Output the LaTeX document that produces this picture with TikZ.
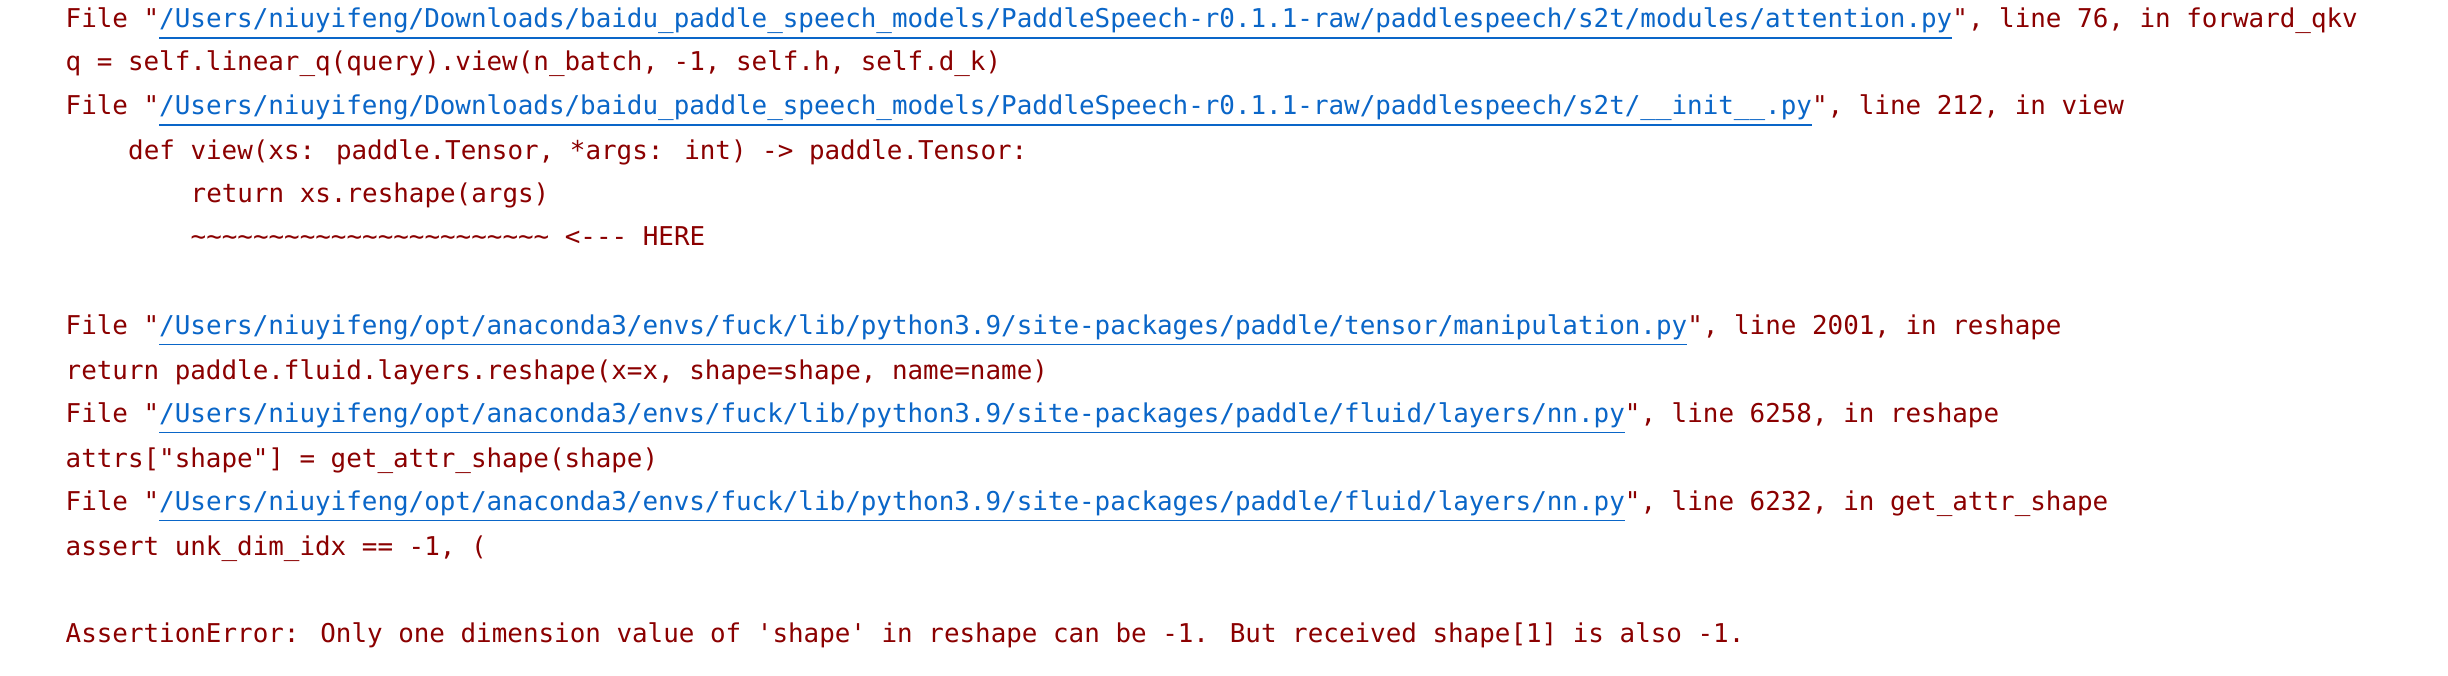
\documentclass[tikz,border=0pt]{standalone}
\usepackage{fontspec}
\newfontfamily\codefont{DejaVu Sans Mono}
\definecolor{errred}{HTML}{8B0000}
\definecolor{linkblue}{HTML}{0A66C8}
\newcommand{\lnk}[1]{\textcolor{linkblue}{\underline{#1}}}
\begin{document}
\begin{tikzpicture}[x=0.3pt,y=-0.3pt,
  codeline/.style={anchor=mid west,inner sep=0pt,font=\codefont\fontsize{7.77pt}{9pt}\selectfont,text=errred}]
\useasboundingbox[fill=white] (0,0) rectangle (2448,676);
\node[codeline] (l1) at (65,20) {File "\lnk{/Users/niuyifeng/Downloads/baidu\_paddle\_speech\_models/PaddleSpeech-r0.1.1-raw/paddlespeech/s2t/modules/attention.py}", line 76, in forward\_qkv};
\node[codeline] (l2) at (65,63) {q = self.linear\_q(query).view(n\_batch, -1, self.h, self.d\_k)};
\node[codeline] (l3) at (65,107) {File "\lnk{/Users/niuyifeng/Downloads/baidu\_paddle\_speech\_models/PaddleSpeech-r0.1.1-raw/paddlespeech/s2t/\_\_init\_\_.py}", line 212, in view};
\node[codeline] (l4) at (127.5,152) {def view(xs: paddle.Tensor, *args: int) -> paddle.Tensor:};
\node[codeline] (l5) at (190,195) {return xs.reshape(args)};
\node[codeline] (l6) at (190,238) {\textasciitilde\textasciitilde\textasciitilde\textasciitilde\textasciitilde\textasciitilde\textasciitilde\textasciitilde\textasciitilde\textasciitilde\textasciitilde\textasciitilde\textasciitilde\textasciitilde\textasciitilde\textasciitilde\textasciitilde\textasciitilde\textasciitilde\textasciitilde\textasciitilde\textasciitilde\textasciitilde{} <--- HERE};
\node[codeline] (l7) at (65,327) {File "\lnk{/Users/niuyifeng/opt/anaconda3/envs/fuck/lib/python3.9/site-packages/paddle/tensor/manipulation.py}", line 2001, in reshape};
\node[codeline] (l8) at (65,372) {return paddle.fluid.layers.reshape(x=x, shape=shape, name=name)};
\node[codeline] (l9) at (65,415) {File "\lnk{/Users/niuyifeng/opt/anaconda3/envs/fuck/lib/python3.9/site-packages/paddle/fluid/layers/nn.py}", line 6258, in reshape};
\node[codeline] (l10) at (65,460) {attrs["shape"] = get\_attr\_shape(shape)};
\node[codeline] (l11) at (65,503) {File "\lnk{/Users/niuyifeng/opt/anaconda3/envs/fuck/lib/python3.9/site-packages/paddle/fluid/layers/nn.py}", line 6232, in get\_attr\_shape};
\node[codeline] (l12) at (65,548) {assert unk\_dim\_idx == -1, (};
\node[codeline] (l13) at (65,635) {AssertionError: Only one dimension value of 'shape' in reshape can be -1. But received shape[1] is also -1.};
\end{tikzpicture}
\end{document}
